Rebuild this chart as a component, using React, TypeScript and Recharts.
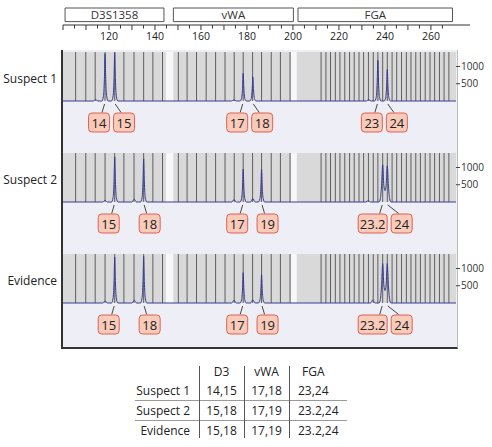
import React from "react";
import {
  ComposedChart,
  Line,
  Scatter,
  XAxis,
  YAxis,
  ReferenceArea,
  ReferenceLine,
} from "recharts";

const FONT = '"Open Sans", "Noto Sans", sans-serif';

// fragment size axis (bp)
const SIZE_TICKS = [
  100, 105, 110, 115, 120, 125, 130, 135, 140, 145, 150, 155, 160, 165, 170, 175, 180,
  185, 190, 195, 200, 205, 210, 215, 220, 225, 230, 235, 240, 245, 250, 255, 260, 265,
];
const SIZE_LABELS = [120, 140, 160, 180, 200, 220, 240, 260];

const LOCI = ["D3S1358", "vWA", "FGA"];
const LOCUS_BOX_START = [100.9, 148.0, 202.2];
const LOCUS_BOX_END = [143.9, 200.2, 269.4];
const BAND_START = [100, 148.0, 201.7];
const BAND_END = [144.8, 199.1, 271];

// allele bin markers (bp)
const D3_BINS = [105.5, 109.9, 114.0, 118.3, 122.5, 126.5, 130.9, 135.1, 139.1, 143.3];
const VWA_BINS = [150.2, 154.0, 158.1, 162.3, 166.4, 170.5, 174.5, 178.4, 182.5, 186.4, 190.6, 194.6, 198.8];
const FGA_BINS = [
  212.3, 214.4, 216.4, 218.5, 220.5, 222.6, 224.7, 226.7, 228.8, 230.8, 232.9, 235.0, 237.0, 239.1,
  241.1, 243.2, 245.2, 247.3, 249.4, 251.4, 253.5, 255.5, 257.6, 259.7, 261.7, 263.8, 265.8, 267.9,
];

const RFU_TICKS = [500, 1000];
const RFU_MAX = 1420;

const SAMPLES = ["Suspect 1", "Suspect 2", "Evidence"];

// electropherogram traces: [size bp, RFU]
const SUSPECT1_TRACE: [number, number][] = [
  [100, 0],
  [113.2, 0], [114.2, 40], [115.2, 0],
  [116.9, 0], [117.6, 140], [118.0, 620], [118.3, 1370], [118.6, 620], [119.0, 140], [119.7, 0],
  [121.1, 0], [121.8, 140], [122.2, 640], [122.5, 1400], [122.8, 640], [123.2, 140], [123.9, 0],
  [173.4, 0], [174.4, 35], [175.4, 0],
  [177.0, 0], [177.7, 80], [178.1, 360], [178.4, 800], [178.7, 360], [179.1, 80], [179.8, 0],
  [181.2, 0], [181.9, 70], [182.3, 320], [182.6, 700], [182.9, 320], [183.3, 70], [184.0, 0],
  [232.0, 0], [233.0, 40], [234.0, 0],
  [235.6, 0], [236.3, 110], [236.7, 530], [237.0, 1180], [237.3, 530], [237.7, 110], [238.4, 0],
  [239.7, 0], [240.4, 90], [240.8, 410], [241.1, 910], [241.4, 410], [241.8, 90], [242.5, 0],
  [271, 0],
];
const SUSPECT2_TRACE: [number, number][] = [
  [100, 0],
  [117.3, 0], [118.3, 50], [119.3, 0],
  [121.1, 0], [121.8, 130], [122.2, 600], [122.5, 1300], [122.8, 600], [123.2, 130], [123.9, 0],
  [130.0, 0], [131.0, 80], [132.0, 0],
  [133.7, 0], [134.4, 120], [134.8, 580], [135.1, 1250], [135.4, 580], [135.8, 120], [136.5, 0],
  [173.4, 0], [174.4, 70], [175.4, 0],
  [177.0, 0], [177.7, 100], [178.1, 430], [178.4, 950], [178.7, 430], [179.1, 100], [179.8, 0],
  [181.6, 0], [182.6, 100], [183.6, 0],
  [185.0, 0], [185.7, 100], [186.1, 430], [186.4, 950], [186.7, 430], [187.1, 100], [187.8, 0],
  [231.8, 0], [232.8, 40], [233.8, 0],
  [237.5, 0], [238.1, 100], [238.6, 470], [239.1, 1080], [239.6, 480], [240.1, 330], [240.6, 480],
  [241.1, 1050], [241.6, 460], [242.1, 100], [242.7, 0],
  [271, 0],
];
const EVIDENCE_TRACE: [number, number][] = [
  [100, 0],
  [117.3, 0], [118.3, 60], [119.3, 0],
  [121.1, 0], [121.8, 140], [122.2, 610], [122.5, 1330], [122.8, 610], [123.2, 140], [123.9, 0],
  [130.0, 0], [131.0, 80], [132.0, 0],
  [133.7, 0], [134.4, 140], [134.8, 620], [135.1, 1350], [135.4, 620], [135.8, 140], [136.5, 0],
  [173.4, 0], [174.4, 80], [175.4, 0],
  [177.0, 0], [177.7, 90], [178.1, 400], [178.4, 880], [178.7, 400], [179.1, 90], [179.8, 0],
  [181.6, 0], [182.6, 90], [183.6, 0],
  [185.0, 0], [185.7, 90], [186.1, 370], [186.4, 820], [186.7, 370], [187.1, 90], [187.8, 0],
  [233.8, 0], [234.8, 90], [235.8, 0],
  [237.5, 0], [238.1, 110], [238.6, 500], [239.1, 1140], [239.6, 520], [240.1, 360], [240.6, 520],
  [241.1, 1140], [241.6, 500], [242.1, 110], [242.7, 0],
  [271, 0],
];

// called alleles, two per locus (D3, vWA, FGA)
const SUSPECT1_ALLELES = ["14", "15", "17", "18", "23", "24"];
const SUSPECT1_SIZES = [118.3, 122.5, 178.4, 182.6, 237.0, 241.1];
const SUSPECT2_ALLELES = ["15", "18", "17", "19", "23.2", "24"];
const SUSPECT2_SIZES = [122.5, 135.1, 178.4, 186.4, 239.1, 241.1];
const EVIDENCE_ALLELES = ["15", "18", "17", "19", "23.2", "24"];
const EVIDENCE_SIZES = [122.5, 135.1, 178.4, 186.4, 239.1, 241.1];

// summary table
const TABLE_COLUMNS = ["D3", "vWA", "FGA"];
const TABLE_D3 = ["14,15", "15,18", "15,18"];
const TABLE_VWA = ["17,18", "17,19", "17,19"];
const TABLE_FGA = ["23,24", "23.2,24", "23.2,24"];

const TRACES = [SUSPECT1_TRACE, SUSPECT2_TRACE, EVIDENCE_TRACE];
const ALLELES = [SUSPECT1_ALLELES, SUSPECT2_ALLELES, EVIDENCE_ALLELES];
const SIZES = [SUSPECT1_SIZES, SUSPECT2_SIZES, EVIDENCE_SIZES];

const X_MIN = 100;
const X_MAX = 271;
const PLOT_W = 393;
const PX_PER_BP = PLOT_W / (X_MAX - X_MIN);

const tagWidth = (t: string) => 13 + 4 * t.length;

function AlleleTag(props: any) {
  const { cx, cy, payload } = props;
  if (cx == null || cy == null || !payload) return null;
  const w = tagWidth(payload.text);
  let center: number;
  let leadEnd: number;
  let leadStart: number;
  if (payload.side === 0) {
    center = cx - 6 - (w - 21) / 2;
    leadEnd = center + w / 2 - 7.5;
    leadStart = cx - 0.5;
  } else {
    const prevCx = cx - (payload.bp - payload.prevBp) * PX_PER_BP;
    const pw = tagWidth(payload.prevText);
    const prevRight = prevCx - 6 - (pw - 21) / 2 + pw / 2;
    center = Math.max(cx + 6, prevRight + 4 + w / 2);
    leadEnd = center - w / 2 + 7.5;
    leadStart = cx + 0.5;
  }
  const top = cy + 12;
  return (
    <g>
      <line x1={leadStart} y1={cy + 3} x2={leadEnd} y2={top - 0.5} stroke="#333" strokeWidth={0.9} />
      <rect x={center - w / 2} y={top} width={w} height={19} rx={3.5} fill="#f9cbba" stroke="#e0604f" strokeWidth={1} />
      <text x={center} y={top + 14.5} textAnchor="middle" fontSize={13} fill="#222" fontFamily={FONT}>
        {payload.text}
      </text>
    </g>
  );
}

function SizeTick(props: any) {
  const { x, y, payload } = props;
  const v = payload.value;
  const long = v % 10 === 0;
  return (
    <g>
      <line x1={x} x2={x} y1={y} y2={y + (long ? 5 : 3.5)} stroke="#333" strokeWidth={1} />
      {SIZE_LABELS.includes(v) && (
        <text x={x} y={y + 15} textAnchor="middle" fontSize={10.5} fill="#222" fontFamily={FONT}>
          {v}
        </text>
      )}
    </g>
  );
}

function SizeHeader() {
  return (
    <ComposedChart width={492} height={48} margin={{ top: 8, right: 22, bottom: 0, left: 63 }} data={[{ bp: 100, v: 0 }]}>
      <XAxis
        type="number"
        dataKey="bp"
        domain={[100, 277]}
        ticks={SIZE_TICKS}
        interval={0}
        tickSize={0}
        tickMargin={0}
        tickLine={false}
        axisLine={{ stroke: "#333" }}
        height={23}
        tick={<SizeTick />}
        allowDataOverflow
      />
      <YAxis hide domain={[-0.25, 1]} allowDataOverflow />
      {LOCI.map((name, i) => (
        <ReferenceArea
          key={name}
          x1={LOCUS_BOX_START[i]}
          x2={LOCUS_BOX_END[i]}
          y1={0}
          y2={1}
          ifOverflow="visible"
          fill="#fff"
          fillOpacity={1}
          stroke="#555"
          strokeWidth={1}
          label={{ value: name, position: "center", fill: "#333", fontSize: 11.5, fontFamily: FONT }}
        />
      ))}
    </ComposedChart>
  );
}

function SampleRow({ idx }: { idx: number }) {
  const trace = TRACES[idx].map(([bp, rfu]) => ({ bp, rfu }));
  const alleles = ALLELES[idx];
  const sizes = SIZES[idx];
  const tags = alleles.map((text, i) => ({
    bp: sizes[i],
    rfu: 0,
    text,
    side: i % 2,
    prevBp: i % 2 ? sizes[i - 1] : sizes[i],
    prevText: i % 2 ? alleles[i - 1] : text,
  }));
  const bins = [...D3_BINS, ...VWA_BINS, ...FGA_BINS];
  return (
    <ComposedChart width={492} height={101} margin={{ top: 3, right: 0, bottom: 49, left: 0 }}>
      <XAxis type="number" dataKey="bp" domain={[X_MIN, X_MAX]} hide />
      <YAxis
        yAxisId="name"
        orientation="left"
        width={63}
        domain={[0, RFU_MAX]}
        tick={false}
        tickLine={false}
        axisLine={false}
        label={{ value: SAMPLES[idx], position: "insideRight", offset: 6, fill: "#222", fontSize: 12, fontFamily: FONT, dy: 2 }}
      />
      <YAxis
        yAxisId="rfu"
        orientation="right"
        width={36}
        domain={[0, RFU_MAX]}
        ticks={RFU_TICKS}
        interval={0}
        axisLine={false}
        tickSize={4}
        tickMargin={1}
        tickLine={{ stroke: "#444" }}
        tick={{ fontSize: 10, fill: "#333", fontFamily: FONT }}
      />
      <ReferenceArea yAxisId="rfu" x1={X_MIN} x2={X_MAX} y1={0} y2={RFU_MAX} fill="#f8f8fb" fillOpacity={1} stroke="none" />
      {LOCI.map((name, i) => (
        <ReferenceArea
          key={name}
          yAxisId="rfu"
          x1={BAND_START[i]}
          x2={BAND_END[i]}
          y1={0}
          y2={RFU_MAX}
          fill="#d9d9d9"
          fillOpacity={1}
          stroke="none"
        />
      ))}
      {bins.map((b) => (
        <ReferenceLine key={b} yAxisId="rfu" x={b} stroke="#5e5e5e" strokeWidth={1} />
      ))}
      <Line
        data={trace}
        yAxisId="rfu"
        dataKey="rfu"
        type="monotone"
        stroke="#3a3a94"
        strokeWidth={1}
        dot={false}
        activeDot={false}
        isAnimationActive={false}
      />
      <Scatter data={tags} yAxisId="rfu" dataKey="rfu" shape={AlleleTag} isAnimationActive={false} />
    </ComposedChart>
  );
}

function SummaryTable() {
  const cols = [TABLE_D3, TABLE_VWA, TABLE_FGA];
  const colX = [199, 244, 289, 347];
  const rowTop = [362, 381, 401, 421];
  const text: React.CSSProperties = { position: "absolute", fontSize: 12, color: "#222", lineHeight: "20px", whiteSpace: "nowrap" };
  return (
    <>
      {TABLE_COLUMNS.map((c, j) => (
        <div
          key={c}
          style={{ ...text, top: rowTop[0], left: colX[j], width: colX[j + 1] - colX[j], textAlign: j < 2 ? "center" : "left", paddingLeft: j < 2 ? 0 : 13, boxSizing: "border-box" }}
        >
          {c}
        </div>
      ))}
      {SAMPLES.map((s, r) => (
        <React.Fragment key={s}>
          <div style={{ ...text, top: rowTop[r + 1], left: 120, width: 70, textAlign: "right" }}>{s}</div>
          {cols.map((col, j) => (
            <div
              key={j}
              style={{ ...text, top: rowTop[r + 1], left: colX[j], width: colX[j + 1] - colX[j], textAlign: j < 2 ? "center" : "left", paddingLeft: j < 2 ? 0 : 9, boxSizing: "border-box" }}
            >
              {col[r]}
            </div>
          ))}
        </React.Fragment>
      ))}
      {[400, 420].map((y) => (
        <div key={y} style={{ position: "absolute", left: 135, top: y, width: 212, height: 1, background: "#9a9a9a" }} />
      ))}
      {colX.slice(0, 3).map((x) => (
        <div key={x} style={{ position: "absolute", left: x, top: 366, width: 1, height: 72, background: "#555" }} />
      ))}
    </>
  );
}

export default function App() {
  return (
    <div style={{ position: "absolute", left: 0, top: 0, width: 492, height: 447, background: "#fff", fontFamily: FONT, overflow: "hidden" }}>
      <div style={{ position: "absolute", left: 0, top: 0 }}>
        <SizeHeader />
      </div>
      <div
        style={{
          position: "absolute",
          left: 61,
          top: 50,
          width: 394,
          height: 297,
          background: "#eeeef7",
          borderLeft: "2px solid #333",
          borderBottom: "2px solid #333",
          borderRight: "1px solid #bdbdbd",
        }}
      />
      {SAMPLES.map((s, i) => (
        <div key={s} style={{ position: "absolute", left: 0, top: 49 + i * 101 }}>
          <SampleRow idx={i} />
        </div>
      ))}
      <SummaryTable />
    </div>
  );
}
